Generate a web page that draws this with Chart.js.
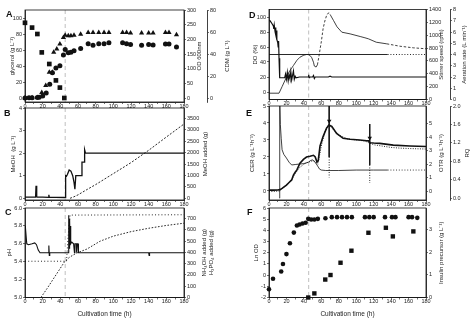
<!DOCTYPE html>
<html>
<head>
<meta charset="utf-8">
<script src="https://cdn.jsdelivr.net/npm/chart.js@4"></script>
<style>
body { margin: 0; background: #fff; width: 474px; height: 321px; overflow: hidden; position: relative; font-family: "Liberation Sans", Arial, sans-serif; }
.box { position: absolute; }
.tag { position: absolute; font-weight: bold; font-size: 9px; color: #111; }
</style>
</head>
<body>
<div class="box" style="left:0;top:0"><canvas id="cA" width="237" height="110"></canvas></div>
<div class="box" style="left:0;top:100px"><canvas id="cB" width="237" height="110"></canvas></div>
<div class="box" style="left:0;top:200px"><canvas id="cC" width="237" height="121"></canvas></div>
<div class="box" style="left:237px;top:0"><canvas id="cD" width="237" height="110"></canvas></div>
<div class="box" style="left:237px;top:100px"><canvas id="cE" width="237" height="110"></canvas></div>
<div class="box" style="left:237px;top:200px"><canvas id="cF" width="237" height="121"></canvas></div>
<div class="tag" style="left:6px;top:9px">A</div>
<div class="tag" style="left:4px;top:108px">B</div>
<div class="tag" style="left:5px;top:207px">C</div>
<div class="tag" style="left:249px;top:10px">D</div>
<div class="tag" style="left:246px;top:108px">E</div>
<div class="tag" style="left:247px;top:207px">F</div>
<script>
// shared time axis
const timeTicks = [0, 10, 20, 30, 40, 50, 60, 70, 80, 90, 100, 110, 120, 130, 140, 150, 160, 170, 180];
const inductionTime = 45.5;

// A: glycerol, OD600, CDM
const glyTime = [0, 8, 14, 19, 27.5, 35, 39.5, 44.5];
const glycerol = [94, 88, 80, 57, 42.5, 22, 13, 0];
const odTime = [0, 4.5, 8, 14, 16, 20, 24, 28, 31, 35, 39.5, 43.5, 45.5, 49, 52, 55.5, 63, 71.5, 77, 83.5, 89.5, 95, 110.5, 115, 119.5, 132, 140, 145, 159, 163, 171.5];
const od = [0.3, 0.7, 1, 1.4, 2.7, 6.6, 17, 47, 86, 102, 110, 147, 165, 154, 156, 161, 169, 185, 180, 185, 185, 188, 188, 185, 182, 180, 182, 181, 184, 184, 174];
const cdmTime = [0, 8, 14, 19, 23.5, 27.5, 31, 32.5, 36, 39.5, 43.5, 45.5, 49, 52, 55.5, 63, 71.5, 77, 83.5, 89.5, 95, 110.5, 115, 119.5, 132, 140, 145, 159, 163, 171.5];
const cdm = [0, 0.3, 0.5, 5, 11.5, 23.5, 23.5, 41.5, 44.5, 49, 55, 57, 56.5, 56.5, 57, 58, 59.5, 59.5, 59.5, 59.5, 59.5, 59.5, 59.5, 59, 59, 59, 59, 59.5, 59.5, 57.5];
const glyTicks = [0, 20, 40, 60, 80, 100];
const odTicks = [0, 50, 100, 150, 200, 250, 300];
const cdmTicks = [0, 20, 40, 60, 80];

// B: methanol
const meohTime = [0, 12, 12.5, 13, 13.5, 14, 20, 26.5, 27, 27.5, 35, 45.5, 46, 47, 48, 50, 52, 54, 55.5, 56.5, 57.5, 60, 64, 64.5, 66, 67, 67.5, 68.5, 69, 70, 100, 140, 180];
const meoh = [0.05, 0.05, 0.55, 0.1, 0.06, 0.05, 0.05, 0.04, 0.15, 0.04, 0.04, 0.03, 1.0, 0.98, 1.05, 1.25, 1.2, 1.0, 0.7, 0.4, 1.0, 1.0, 1.0, 1.6, 1.6, 1.6, 2.15, 2.0, 2.0, 2.0, 2.0, 2.0, 2.0];
const addTime = [51, 55, 60, 70, 80, 100, 120, 140, 160, 180];
const meohAdded = [0, 60, 150, 380, 600, 1080, 1560, 2100, 2680, 3250];
const meohTicks = [0, 1, 2, 3, 4];
const addTicks = [0, 500, 1000, 1500, 2000, 2500, 3000, 3500];

// C: pH, base and acid
const phTime = [0, 0.5, 2, 4, 8, 11, 13, 15, 17, 20, 26.5, 27, 27.5, 28, 30, 45, 48, 49, 49.5, 50, 50.5, 51, 51.5, 52, 53, 55, 56, 56.5, 58, 58.5, 59, 60, 60.5, 80, 120, 140, 140.5, 141, 180];
const ph = [5.8, 5.78, 5.6, 5.59, 5.6, 5.61, 5.59, 5.53, 5.5, 5.5, 5.5, 5.58, 5.47, 5.5, 5.5, 5.5, 5.5, 5.5, 5.92, 5.55, 5.88, 5.6, 5.8, 5.6, 5.62, 5.6, 5.5, 5.6, 5.6, 5.5, 5.6, 5.6, 5.5, 5.5, 5.5, 5.5, 5.47, 5.5, 5.5];
const nhTime = [18, 25, 30, 35, 40, 45, 50, 55, 60, 70, 85, 100, 120, 140, 160, 180];
const nh4oh = [0, 80, 140, 200, 260, 320, 355, 380, 400, 430, 500, 545, 585, 615, 640, 660];
const hpTime = [0, 47, 49, 51, 180];
const h3po4 = [322, 322, 560, 732, 735];
const phTicks = [5.0, 5.2, 5.4, 5.6, 5.8, 6.0];
const baseTicks = [0, 100, 200, 300, 400, 500, 600, 700];

// D: DO, stirrer, aeration
const doTime = [0, 1, 2.5, 4, 5, 5.5, 6, 7, 7.5, 8, 8.5, 9, 10, 10.5, 11, 11.5, 12, 12.5, 18, 19, 20, 21, 22, 23, 24, 25, 26, 27, 28, 29, 30, 31, 35, 45, 45.5, 46, 46.5, 50, 51, 52, 53, 60, 68, 70, 72, 100, 140, 180];
const dissolvedO2 = [96, 95, 93, 90, 88, 84, 89, 80, 86, 76, 82, 70, 66, 60, 68, 45, 19, 19, 19, 24, 17, 26, 15, 23, 18, 27, 16, 22, 28, 17, 21, 19, 20, 20, 23, 19, 20, 20, 22, 18, 20, 20, 20, 21, 20, 20, 20, 20];
const stirTime = [0, 11.5, 15, 20, 24, 28, 32, 35.5, 40, 43, 45, 47, 49, 51, 52, 54, 55.5, 57, 58.5, 60, 62, 64, 66, 68, 69, 71, 74, 78, 83.5, 93, 104.5, 110, 114, 123, 135, 150, 165.5, 180];
const stirrer = [98, 98, 200, 347, 450, 529, 610, 658, 690, 700, 700, 685, 650, 580, 520, 505, 540, 650, 778, 900, 1100, 1220, 1306, 1345, 1348, 1300, 1228, 1130, 1047, 1021, 980, 960, 944, 891, 866, 829, 804, 789];
const aerTime = [0, 136, 180];
const aeration = [4, 4, 4];
const doTicks = [0, 20, 40, 60, 80, 100];
const stirTicks = [0, 200, 400, 600, 800, 1000, 1200, 1400];
const aerTicks = [0, 1, 2, 3, 4, 5, 6, 7, 8];

// E: CER, OTR, RQ
const cerTime = [0, 5, 10, 12.5, 15, 20, 23, 26, 28, 30, 32, 35.5, 39.5, 43, 47, 51, 53, 55, 56.5, 58.5, 62, 66, 68.8, 72, 77.5, 85, 93, 104, 112, 114, 116, 120, 127, 142.5, 161.5, 180];
const cer = [0.05, 0.05, 0.06, 0.08, 0.15, 0.35, 0.5, 0.65, 0.94, 1.1, 1.24, 1.63, 1.86, 2.0, 2.04, 2.1, 2.0, 1.7, 1.8, 2.65, 3.2, 3.7, 3.88, 3.8, 3.39, 3.1, 3.04, 3.0, 2.96, 2.95, 2.84, 2.82, 2.8, 2.7, 2.65, 2.62];
const otrTime = [0, 12, 20, 26, 30, 35, 40, 45, 50, 53, 56, 60, 64, 68, 70, 75, 80, 90, 100, 110, 115, 120, 130, 140, 150, 160, 170, 180];
const otr = [-0.05, 0.0, 0.45, 0.82, 1.3, 1.75, 2.0, 2.15, 2.25, 2.2, 2.0, 3.36, 4.4, 4.93, 4.85, 4.48, 4.18, 3.88, 3.81, 3.73, 3.58, 3.45, 3.35, 3.25, 3.2, 3.17, 3.15, 3.13];
const rqTime = [12, 12.3, 13, 14, 15, 17, 20, 23, 26, 30, 35, 40, 45, 48, 50, 52, 55, 58, 60, 65, 70, 80, 100, 120, 136, 150, 180];
const rq = [0, 2.2, 1.6, 1.3, 1.05, 0.95, 0.87, 0.78, 0.72, 0.73, 0.74, 0.75, 0.78, 0.82, 0.83, 0.8, 0.72, 0.63, 0.61, 0.6, 0.6, 0.6, 0.61, 0.61, 0.61, 0.61, 0.61];
const arrowTime = [69, 115.5];
const arrowTop = [5, 3.94];
const arrowBase = [2.0, 1.53];
const arrowTail = [0.8, 0.47];
const arrowHead = [4.12, 3.12];
const cerTicks = [0, 1, 2, 3, 4, 5];
const otrTicks = [0, 1, 2, 3, 4, 5];
const rqTicks = [0, 0.2, 0.4, 0.6, 0.8, 1.0, 1.2, 1.4, 1.6, 1.8, 2.0];

// F: ln OD and product
const lnTime = [0, 4.6, 14, 16, 20, 24, 28.5, 32, 35, 38.4, 42, 45, 48.3, 52, 56, 64.7, 72, 78, 83.7, 89.4, 95, 110, 115, 120, 133, 141, 145, 160, 164, 170];
const lnOD = [-1.26, -0.32, 0.32, 1.0, 1.88, 2.85, 3.8, 4.44, 4.53, 4.62, 4.68, 5.03, 4.97, 4.97, 5.03, 5.09, 5.18, 5.18, 5.18, 5.18, 5.18, 5.18, 5.18, 5.18, 5.18, 5.18, 5.18, 5.18, 5.18, 5.12];
const insTime = [45, 52, 64.5, 70.5, 82, 94.5, 114, 134, 142, 165.5];
const insulin = [0, 0.18, 0.79, 0.99, 1.53, 2.06, 2.85, 3.07, 2.69, 2.91];
const lnTicks = [-2, -1, 0, 1, 2, 3, 4, 5, 6];
const insTicks = [0, 1, 2, 3];

Chart.defaults.font.family = '"Liberation Sans", Arial, sans-serif';
Chart.defaults.font.size = 5.5;
Chart.defaults.color = '#222';
const ink = '#111';

const pts = (xs, ys) => xs.map((x, i) => ({ x: x, y: ys[i] }));

function xAxis(h) {
  return {
    type: 'linear', position: 'bottom', min: 0, max: 180,
    afterBuildTicks: s => { s.ticks = timeTicks.map(v => ({ value: v })); },
    afterFit: s => { s.height = h; s.paddingLeft = 0; s.paddingRight = 0; },
    grid: { drawOnChartArea: false, tickLength: 2, color: ink, lineWidth: 0.6 },
    border: { color: ink, width: 0.8 },
    ticks: { autoSkip: false, maxRotation: 0, padding: -1, callback: v => (v % 20 === 0 ? v : '') }
  };
}

function yAxis(pos, min, max, ticks, w, dec) {
  return {
    type: 'linear', axis: 'y', position: pos, min: min, max: max,
    afterBuildTicks: s => { s.ticks = ticks.map(v => ({ value: v })); },
    afterFit: s => { s.width = w; s.paddingTop = 0; s.paddingBottom = 0; },
    grid: { drawOnChartArea: false, tickLength: 2, color: ink, lineWidth: 0.6 },
    border: { color: ink, width: 0.8 },
    ticks: { padding: 1, callback: v => (dec ? v.toFixed(dec) : v) }
  };
}

function line(data, axis, w, dash, seg) {
  return { data: data, yAxisID: axis, showLine: true, pointRadius: 0, borderColor: ink,
    borderWidth: w, borderDash: dash || [], segment: seg || {}, tension: 0 };
}

function marks(data, axis, style, r) {
  return { data: data, yAxisID: axis, pointStyle: style, pointRadius: r, backgroundColor: ink,
    borderColor: ink, borderWidth: 0, clip: false };
}

// axis titles per canvas: x position inside the canvas, rotated unless rot is false
const titles = {
  cA: [{ x: 12, text: 'glycerol (g L⁻¹)' }, { x: 199, text: 'OD 600nm' }, { x: 227, text: 'CDM (g L⁻¹)' }],
  cB: [{ x: 13, text: 'MeOH  (g L⁻¹)' }, { x: 205, text: 'MeOH added (g)' }],
  cC: [{ x: 9, text: 'pH' }, { x: 204, text: 'NH₄OH added (g)' }, { x: 211.5, text: 'H₃PO₄ added (g)' },
       { x: 104.5, y: 114, text: 'Cultivation time (h)', rot: false, size: 6.5 }],
  cD: [{ x: 18, text: 'DO (%)' }, { x: 204, text: 'Stirrer speed (rpm)' }, { x: 227, text: 'Aeration rate (L min⁻¹)' }],
  cE: [{ x: 15, text: 'CER (g L⁻¹h⁻¹)' }, { x: 204, text: 'OTR (g L⁻¹h⁻¹)' }, { x: 230, text: 'RQ' }],
  cF: [{ x: 19, text: 'Ln OD' }, { x: 204, text: 'Insulin precursor (g L⁻¹)' },
       { x: 110.5, y: 114, text: 'Cultivation time (h)', rot: false, size: 6.5 }]
};

const deco = {
  id: 'deco',
  beforeDatasetsDraw(chart) {
    const { ctx, chartArea: a, scales } = chart;
    const x = scales.x.getPixelForValue(inductionTime);
    ctx.save();
    ctx.strokeStyle = '#b8b8b8';
    ctx.lineWidth = 0.9;
    ctx.setLineDash([4, 3]);
    ctx.beginPath();
    ctx.moveTo(x, a.top);
    ctx.lineTo(x, a.bottom);
    ctx.stroke();
    ctx.restore();
  },
  afterDraw(chart) {
    const { ctx, chartArea: a } = chart;
    ctx.save();
    ctx.strokeStyle = ink;
    ctx.lineWidth = 0.8;
    ctx.strokeRect(a.left, a.top, a.right - a.left, a.bottom - a.top);
    ctx.fillStyle = '#222';
    ctx.textAlign = 'center';
    ctx.textBaseline = 'middle';
    (titles[chart.canvas.id] || []).forEach(t => {
      ctx.save();
      ctx.font = (t.size || 6) + 'px "Liberation Sans", Arial, sans-serif';
      ctx.translate(t.x, t.y != null ? t.y : (a.top + a.bottom) / 2);
      if (t.rot !== false) ctx.rotate(-Math.PI / 2);
      ctx.fillText(t.text, 0, 0);
      ctx.restore();
    });
    ctx.restore();
  }
};

function build(id, padTop, scales, datasets) {
  new Chart(document.getElementById(id), {
    type: 'scatter',
    data: { datasets: datasets },
    options: {
      responsive: false,
      animation: false,
      layout: { padding: { top: padTop, left: 0, right: 0, bottom: 0 } },
      scales: scales,
      plugins: { legend: { display: false }, tooltip: { enabled: false } }
    },
    plugins: [deco]
  });
}

const dotAfter = t => ({ borderDash: c => (c.p0.parsed.x >= t ? [1, 1.8] : undefined) });

// A
build('cA', 10, {
  x: xAxis(8),
  y: yAxis('left', -5, 110, glyTicks, 25),
  odAxis: yAxis('right', -13.6, 300, odTicks, 23),
  cdmAxis: yAxis('right', -3.6, 80, cdmTicks, 30)
}, [
  marks(pts(glyTime, glycerol), 'y', 'rect', 3.3),
  marks(pts(odTime, od), 'odAxis', 'circle', 2.5),
  marks(pts(cdmTime, cdm), 'cdmAxis', 'triangle', 3)
]);

// B
build('cB', 8, {
  x: xAxis(10),
  y: yAxis('left', -0.08, 4, meohTicks, 25),
  addAxis: yAxis('right', -74, 3950, addTicks, 53)
}, [
  line(pts(meohTime, meoh), 'y', 1.3),
  line(pts(addTime, meohAdded), 'addAxis', 0.9, [2, 1.6])
]);

// C
build('cC', 8, {
  x: xAxis(23.5),
  y: yAxis('left', 5.0, 6.0, phTicks, 25, 1),
  baseAxis: yAxis('right', 0, 795, baseTicks, 53)
}, [
  line(pts(phTime, ph), 'y', 1.1),
  line(pts(nhTime, nh4oh), 'baseAxis', 0.9, [1.6, 1.6]),
  line(pts(hpTime, h3po4), 'baseAxis', 0.9, [1, 2.2])
]);

// D
build('cD', 9.5, {
  x: xAxis(10.5),
  y: yAxis('left', -10, 110, doTicks, 32),
  stAxis: yAxis('right', 0, 1400, stirTicks, 24),
  aerAxis: yAxis('right', 0, 8, aerTicks, 24)
}, [
  line(pts(doTime, dissolvedO2), 'y', 1.2),
  line(pts(stirTime, stirrer), 'stAxis', 0.8, [], {
    borderDash: c => ((c.p0.parsed.x >= 55 && c.p0.parsed.x < 70) || c.p0.parsed.x >= 130 ? [2.5, 1.8] : undefined)
  }),
  line(pts(aerTime, aeration), 'aerAxis', 0.9, [], dotAfter(136))
]);

// E
const arrowLines = arrowTime.map((t, i) => line([{ x: t, y: arrowTop[i] }, { x: t, y: arrowBase[i] }], 'y', 0.9));
const arrowTails = arrowTime.map((t, i) => line([{ x: t, y: arrowBase[i] }, { x: t, y: arrowTail[i] }], 'y', 0.9, [1, 1.5]));
const arrowHeads = Object.assign(marks(pts(arrowTime, arrowHead), 'y', 'triangle', 2.6), { rotation: 180 });
build('cE', 6, {
  x: xAxis(10),
  y: yAxis('left', -0.53, 5, cerTicks, 32),
  otrAxis: yAxis('right', -0.67, 6.34, otrTicks, 24),
  rqAxis: yAxis('right', -0.04, 2.0, rqTicks, 24, 1)
}, [
  line(pts(cerTime, cer), 'y', 1.6),
  line(pts(otrTime, otr), 'otrAxis', 0.9, [1, 1.4]),
  line(pts(rqTime, rq), 'rqAxis', 0.8, [], dotAfter(136))
].concat(arrowLines, arrowTails, [arrowHeads]));

// F
build('cF', 8, {
  x: xAxis(23.5),
  y: yAxis('left', -2, 6, lnTicks, 32),
  insAxis: yAxis('right', 0, 3.94, insTicks, 48)
}, [
  marks(pts(lnTime, lnOD), 'y', 'circle', 2.3),
  marks(pts(insTime, insulin), 'insAxis', 'rect', 3.1)
]);
</script>
</body>
</html>
